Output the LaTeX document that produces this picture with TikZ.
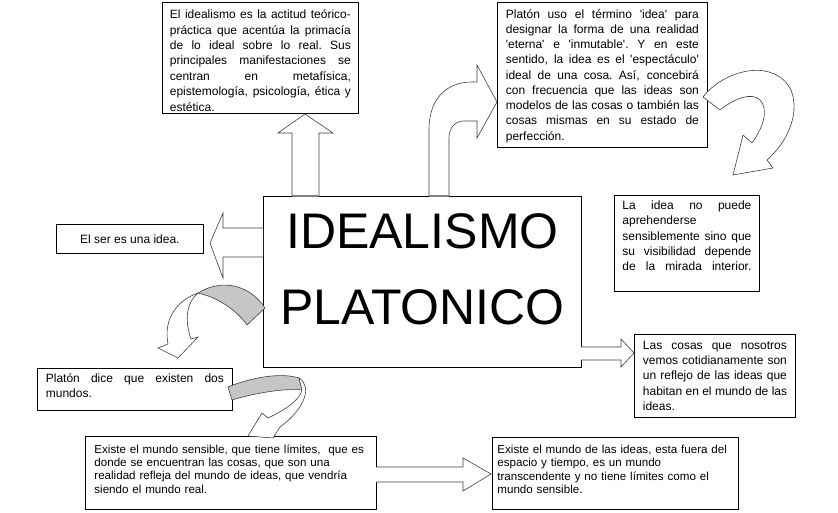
\documentclass[tikz,border=0pt]{standalone}
\usepackage{fontspec}
\setmainfont{Liberation Sans}
\newcommand\J[1]{\leavevmode\hbox to\hsize{\spaceskip=0.28em plus 1fil\xspaceskip=\spaceskip #1}}
\newcommand\q{\textquotesingle}
\newcommand\lift[1]{\par\hrule height #1 width 0pt}
\begin{document}
\begin{tikzpicture}[x=1pt,y=-1pt,
  box/.style={draw, line width=0.8pt, inner ysep=0pt, anchor=north west, align=left,
              font=\fontsize{12}{15.4}\selectfont},
  lowbox/.style={box, font=\fontsize{11.6}{13.4}\selectfont},
  blk/.style={draw=gray!50!black, line width=0.6pt, fill=white, line join=miter},
  back/.style={draw=gray!50!black, line width=0.6pt, fill=gray!45},
  base/.style={draw=gray, line width=1.2pt}]
\useasboundingbox (0,0) rectangle (838,513);

% main box
\node[draw, line width=0.8pt, inner sep=0pt, anchor=north west] (main) at (263,196)
  {\parbox[c][171pt][t]{318pt}{\centering\vspace*{17pt}\fontsize{50}{76}\selectfont IDEALISMO\par PLATONICO}};

% boxes
\node[box, text width=181pt, inner xsep=7.5pt, minimum height=111pt] (def) at (162,2)
 {\J{\rule{0pt}{14pt}El idealismo es la actitud teórico-}\\
  \J{práctica que acentúa la primacía}\\
  \J{de lo ideal sobre lo real. Sus}\\
  \J{principales manifestaciones se}\\
  \J{centran en metafísica,}\\
  \J{epistemología, psicología, ética y}\\
  estética.};

\node[box, text width=193pt, inner xsep=8.5pt, minimum height=145pt,
      font=\fontsize{12}{15.25}\selectfont] (plato) at (497,2)
 {\J{\rule{0pt}{11pt}Platón uso el término \q idea\q{} para}\\
  \J{designar la forma de una realidad}\\
  \J{\q eterna\q{} e \q inmutable\q. Y en este}\\
  \J{sentido, la idea es el \q espectáculo\q}\\
  \J{ideal de una cosa. Así, concebirá}\\
  \J{con frecuencia que las ideas son}\\
  \J{modelos de las cosas o también las}\\
  \J{cosas mismas en su estado de}\\
  perfección.};

\node[box, text width=129pt, inner xsep=8pt, minimum height=96pt] (vis) at (614,195)
 {\J{La idea no puede}\\
  aprehenderse\\
  \J{sensiblemente sino que}\\
  \J{su visibilidad depende}\\
  \J{de la mirada interior.}\\
  \mbox{}};

\node[box, align=center, inner sep=0pt, minimum width=147pt, minimum height=29pt] (ser) at (56,224)
 {El ser es una idea.};

\node[box, text width=144pt, inner xsep=8.5pt, minimum height=83pt] (cosas) at (634,334)
 {\J{Las cosas que nosotros}\\
  \J{vemos cotidianamente son}\\
  \J{un reflejo de las ideas que}\\
  \J{habitan en el mundo de las}\\
  ideas.};

\node[box, text width=178pt, inner xsep=8.5pt, minimum height=42pt] (dos) at (37,368)
 {\J{Platón dice que existen dos}\\
  mundos.\lift{7pt}};

\node[lowbox, text width=273pt, inner xsep=9pt, minimum height=73pt] (sens) at (85,436)
 {Existe el mundo sensible, que tiene límites,\ \ que es\\
  donde se encuentran las cosas, que son una\\
  realidad refleja del mundo de ideas, que vendría\\
  siendo el mundo real.\lift{8pt}};

\node[lowbox, text width=236pt, inner xsep=5pt, minimum height=72pt] (ideas) at (492,437)
 {Existe el mundo de las ideas, esta fuera del\\
  espacio y tiempo, es un mundo\\
  transcendente y no tiene límites como el\\
  mundo sensible.\lift{8pt}};

% straight block arrows
\draw[blk] (292,196) -- (292,133) -- (278,133) -- (305,114) -- (333,133) -- (319,133) -- (319,196);
\draw[base] (292,196) -- (319,196);

\draw[blk] (429,196) -- (429,130) .. controls (429,98) and (447,82) .. (472,82) -- (477,82)
  -- (477,65) -- (497,102) -- (477,138) -- (477,121) -- (464,121)
  .. controls (455,121) and (449,128) .. (449,138) -- (449,196);
\draw[base] (429,196) -- (449,196);

\draw[blk] (263,228) -- (223,228) -- (223,213) -- (210,243) -- (223,278) -- (223,257) -- (263,257);
\draw[blk] (581,347) -- (621,347) -- (621,339) -- (634,353) -- (621,367) -- (621,360) -- (581,360);
\draw[blk] (376,467) -- (463,467) -- (463,458) -- (491,474) -- (463,491) -- (463,482) -- (376,482);

% circular arrow top right
\draw[blk] (703,97) .. controls (722,72) and (768,58) .. (788,85)
  .. controls (800,102) and (795,135) .. (767,160)
  -- (773,168) -- (733,175) -- (743,135) -- (752,143)
  .. controls (765,125) and (768,108) .. (760,100)
  .. controls (752,92) and (735,98) .. (720,110) -- cycle;

% curved arrow to "Platon dice"
\draw[back] (265,308) .. controls (250,285) and (222,278) .. (198,293)
  .. controls (220,298) and (238,312) .. (247,325) -- cycle;
\draw[blk] (198,293) .. controls (178,300) and (163,318) .. (168,344)
  -- (158,348) -- (178,358) -- (198,337) -- (191,339)
  .. controls (186,325) and (184,305) .. (198,293);

% curved arrow to "mundo sensible"
\draw[back] (228,387) .. controls (250,378) and (280,372) .. (299,378)
  -- (302,390) .. controls (285,388) and (255,393) .. (232,400) -- cycle;
\draw[blk] (299,378) .. controls (312,386) and (306,408) .. (280,427)
  -- (273,438) -- (248,436) -- (262,413) -- (268,418)
  .. controls (285,410) and (300,400) .. (302,390) -- cycle;
\end{tikzpicture}
\end{document}
